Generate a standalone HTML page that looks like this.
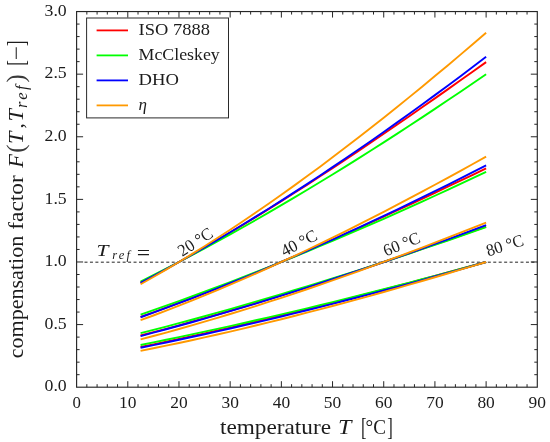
<!DOCTYPE html>
<html><head><meta charset="utf-8"><title>compensation factor</title>
<style>
html,body{margin:0;padding:0;background:#fff;}
svg{display:block;font-family:"Liberation Serif",serif;}
.t{font-size:17px;fill:#1c1c1c;}
.l{font-size:21px;fill:#1c1c1c;}
.i{font-style:italic;}
</style></head><body>
<svg width="550" height="442" viewBox="0 0 550 442">
<rect x="0" y="0" width="550" height="442" fill="#ffffff"/>
<path d="M84.5,262.18 H537.3" stroke="#222" stroke-width="1" stroke-dasharray="3 2.45" fill="none"/>
<g fill="none" stroke-width="1.9" stroke-linejoin="round" stroke-linecap="butt">
<path d="M140.59,282.64 L153.38,275.90 L166.18,269.01 L178.98,261.98 L191.77,254.82 L204.57,247.52 L217.37,240.09 L230.17,232.53 L242.96,224.86 L255.76,217.07 L268.56,209.17 L281.36,201.16 L294.15,193.05 L306.95,184.84 L319.75,176.54 L332.54,168.15 L345.34,159.68 L358.14,151.12 L370.94,142.49 L383.73,133.79 L396.53,125.02 L409.33,116.18 L422.12,107.29 L434.92,98.35 L447.72,89.35 L460.52,80.31 L473.31,71.23 L486.11,62.12" stroke="#ff0000"/>
<path d="M140.59,281.59 L153.38,275.16 L166.18,268.63 L178.98,261.98 L191.77,255.24 L204.57,248.38 L217.37,241.43 L230.17,234.38 L242.96,227.22 L255.76,219.97 L268.56,212.62 L281.36,205.18 L294.15,197.64 L306.95,190.01 L319.75,182.28 L332.54,174.47 L345.34,166.57 L358.14,158.58 L370.94,150.51 L383.73,142.35 L396.53,134.10 L409.33,125.78 L422.12,117.37 L434.92,108.89 L447.72,100.33 L460.52,91.69 L473.31,82.98 L486.11,74.19" stroke="#00ff00"/>
<path d="M140.59,282.96 L153.38,276.10 L166.18,269.10 L178.98,261.98 L191.77,254.74 L204.57,247.37 L217.37,239.87 L230.17,232.26 L242.96,224.52 L255.76,216.67 L268.56,208.70 L281.36,200.62 L294.15,192.42 L306.95,184.11 L319.75,175.69 L332.54,167.15 L345.34,158.51 L358.14,149.77 L370.94,140.92 L383.73,131.96 L396.53,122.90 L409.33,113.75 L422.12,104.49 L434.92,95.13 L447.72,85.68 L460.52,76.14 L473.31,66.50 L486.11,56.77" stroke="#0000ff"/>
<path d="M140.59,284.26 L153.38,277.02 L166.18,269.60 L178.98,261.98 L191.77,254.18 L204.57,246.21 L217.37,238.05 L230.17,229.72 L242.96,221.22 L255.76,212.56 L268.56,203.73 L281.36,194.75 L294.15,185.61 L306.95,176.33 L319.75,166.90 L332.54,157.32 L345.34,147.61 L358.14,137.76 L370.94,127.79 L383.73,117.69 L396.53,107.46 L409.33,97.12 L422.12,86.66 L434.92,76.09 L447.72,65.41 L460.52,54.63 L473.31,43.76 L486.11,32.78" stroke="#ff9900"/>
<path d="M140.59,316.82 L153.38,312.29 L166.18,307.65 L178.98,302.92 L191.77,298.10 L204.57,293.18 L217.37,288.18 L230.17,283.10 L242.96,277.93 L255.76,272.69 L268.56,267.37 L281.36,261.98 L294.15,256.52 L306.95,251.00 L319.75,245.41 L332.54,239.77 L345.34,234.06 L358.14,228.30 L370.94,222.49 L383.73,216.63 L396.53,210.73 L409.33,204.79 L422.12,198.80 L434.92,192.78 L447.72,186.73 L460.52,180.64 L473.31,174.53 L486.11,168.40" stroke="#ff0000"/>
<path d="M140.59,314.55 L153.38,310.13 L166.18,305.63 L178.98,301.06 L191.77,296.42 L204.57,291.71 L217.37,286.92 L230.17,282.07 L242.96,277.15 L255.76,272.16 L268.56,267.10 L281.36,261.98 L294.15,256.80 L306.95,251.55 L319.75,246.24 L332.54,240.86 L345.34,235.43 L358.14,229.93 L370.94,224.37 L383.73,218.76 L396.53,213.09 L409.33,207.36 L422.12,201.58 L434.92,195.75 L447.72,189.86 L460.52,183.91 L473.31,177.92 L486.11,171.87" stroke="#00ff00"/>
<path d="M140.59,317.25 L153.38,312.64 L166.18,307.95 L178.98,303.17 L191.77,298.30 L204.57,293.36 L217.37,288.33 L230.17,283.22 L242.96,278.03 L255.76,272.76 L268.56,267.41 L281.36,261.98 L294.15,256.48 L306.95,250.90 L319.75,245.25 L332.54,239.53 L345.34,233.73 L358.14,227.86 L370.94,221.92 L383.73,215.91 L396.53,209.83 L409.33,203.68 L422.12,197.47 L434.92,191.19 L447.72,184.85 L460.52,178.44 L473.31,171.97 L486.11,165.44" stroke="#0000ff"/>
<path d="M140.59,320.22 L153.38,315.51 L166.18,310.68 L178.98,305.73 L191.77,300.65 L204.57,295.46 L217.37,290.16 L230.17,284.74 L242.96,279.21 L255.76,273.57 L268.56,267.83 L281.36,261.98 L294.15,256.04 L306.95,250.00 L319.75,243.86 L332.54,237.63 L345.34,231.31 L358.14,224.91 L370.94,218.42 L383.73,211.84 L396.53,205.19 L409.33,198.46 L422.12,191.66 L434.92,184.78 L447.72,177.83 L460.52,170.82 L473.31,163.74 L486.11,156.60" stroke="#ff9900"/>
<path d="M140.59,335.53 L153.38,332.20 L166.18,328.80 L178.98,325.33 L191.77,321.79 L204.57,318.18 L217.37,314.51 L230.17,310.78 L242.96,306.98 L255.76,303.14 L268.56,299.23 L281.36,295.28 L294.15,291.27 L306.95,287.21 L319.75,283.11 L332.54,278.96 L345.34,274.78 L358.14,270.55 L370.94,266.28 L383.73,261.98 L396.53,257.65 L409.33,253.29 L422.12,248.89 L434.92,244.47 L447.72,240.03 L460.52,235.56 L473.31,231.07 L486.11,226.57" stroke="#ff0000"/>
<path d="M140.59,333.19 L153.38,329.90 L166.18,326.56 L178.98,323.16 L191.77,319.71 L204.57,316.21 L217.37,312.65 L230.17,309.05 L242.96,305.39 L255.76,301.68 L268.56,297.92 L281.36,294.11 L294.15,290.26 L306.95,286.36 L319.75,282.41 L332.54,278.41 L345.34,274.37 L358.14,270.29 L370.94,266.16 L383.73,261.98 L396.53,257.77 L409.33,253.51 L422.12,249.21 L434.92,244.87 L447.72,240.49 L460.52,236.08 L473.31,231.62 L486.11,227.13" stroke="#00ff00"/>
<path d="M140.59,336.06 L153.38,332.69 L166.18,329.26 L178.98,325.77 L191.77,322.22 L204.57,318.60 L217.37,314.92 L230.17,311.19 L242.96,307.39 L255.76,303.54 L268.56,299.63 L281.36,295.66 L294.15,291.64 L306.95,287.57 L319.75,283.43 L332.54,279.25 L345.34,275.01 L358.14,270.72 L370.94,266.38 L383.73,261.98 L396.53,257.54 L409.33,253.05 L422.12,248.51 L434.92,243.92 L447.72,239.28 L460.52,234.60 L473.31,229.87 L486.11,225.09" stroke="#0000ff"/>
<path d="M140.59,339.37 L153.38,336.01 L166.18,332.56 L178.98,329.02 L191.77,325.40 L204.57,321.69 L217.37,317.90 L230.17,314.03 L242.96,310.09 L255.76,306.06 L268.56,301.96 L281.36,297.79 L294.15,293.54 L306.95,289.23 L319.75,284.85 L332.54,280.40 L345.34,275.89 L358.14,271.31 L370.94,266.68 L383.73,261.98 L396.53,257.23 L409.33,252.43 L422.12,247.57 L434.92,242.66 L447.72,237.70 L460.52,232.69 L473.31,227.64 L486.11,222.54" stroke="#ff9900"/>
<path d="M140.59,346.92 L153.38,344.33 L166.18,341.68 L178.98,338.97 L191.77,336.21 L204.57,333.40 L217.37,330.53 L230.17,327.62 L242.96,324.67 L255.76,321.67 L268.56,318.63 L281.36,315.54 L294.15,312.42 L306.95,309.26 L319.75,306.06 L332.54,302.83 L345.34,299.56 L358.14,296.27 L370.94,292.94 L383.73,289.59 L396.53,286.21 L409.33,282.81 L422.12,279.38 L434.92,275.94 L447.72,272.47 L460.52,268.99 L473.31,265.49 L486.11,261.98" stroke="#ff0000"/>
<path d="M140.59,344.95 L153.38,342.38 L166.18,339.77 L178.98,337.11 L191.77,334.41 L204.57,331.67 L217.37,328.89 L230.17,326.06 L242.96,323.20 L255.76,320.30 L268.56,317.36 L281.36,314.38 L294.15,311.37 L306.95,308.32 L319.75,305.23 L332.54,302.10 L345.34,298.94 L358.14,295.74 L370.94,292.51 L383.73,289.25 L396.53,285.95 L409.33,282.62 L422.12,279.26 L434.92,275.87 L447.72,272.44 L460.52,268.98 L473.31,265.50 L486.11,261.98" stroke="#00ff00"/>
<path d="M140.59,347.70 L153.38,345.10 L166.18,342.45 L178.98,339.75 L191.77,337.00 L204.57,334.21 L217.37,331.37 L230.17,328.49 L242.96,325.55 L255.76,322.58 L268.56,319.56 L281.36,316.50 L294.15,313.39 L306.95,310.24 L319.75,307.05 L332.54,303.81 L345.34,300.54 L358.14,297.23 L370.94,293.87 L383.73,290.48 L396.53,287.05 L409.33,283.58 L422.12,280.07 L434.92,276.52 L447.72,272.94 L460.52,269.32 L473.31,265.67 L486.11,261.98" stroke="#0000ff"/>
<path d="M140.59,350.83 L153.38,348.27 L166.18,345.65 L178.98,342.96 L191.77,340.21 L204.57,337.39 L217.37,334.50 L230.17,331.56 L242.96,328.56 L255.76,325.50 L268.56,322.38 L281.36,319.21 L294.15,315.98 L306.95,312.70 L319.75,309.37 L332.54,305.98 L345.34,302.55 L358.14,299.07 L370.94,295.55 L383.73,291.98 L396.53,288.37 L409.33,284.71 L422.12,281.02 L434.92,277.28 L447.72,273.51 L460.52,269.70 L473.31,265.86 L486.11,261.98" stroke="#ff9900"/>
</g>
<path d="M86.84,387.2 v-3 M86.84,11.55 v3 M97.08,387.2 v-3 M97.08,11.55 v3 M107.31,387.2 v-3 M107.31,11.55 v3 M117.55,387.2 v-3 M117.55,11.55 v3 M127.79,387.2 v-6 M127.79,11.55 v6 M138.03,387.2 v-3 M138.03,11.55 v3 M148.26,387.2 v-3 M148.26,11.55 v3 M158.50,387.2 v-3 M158.50,11.55 v3 M168.74,387.2 v-3 M168.74,11.55 v3 M178.98,387.2 v-6 M178.98,11.55 v6 M189.22,387.2 v-3 M189.22,11.55 v3 M199.45,387.2 v-3 M199.45,11.55 v3 M209.69,387.2 v-3 M209.69,11.55 v3 M219.93,387.2 v-3 M219.93,11.55 v3 M230.17,387.2 v-6 M230.17,11.55 v6 M240.40,387.2 v-3 M240.40,11.55 v3 M250.64,387.2 v-3 M250.64,11.55 v3 M260.88,387.2 v-3 M260.88,11.55 v3 M271.12,387.2 v-3 M271.12,11.55 v3 M281.36,387.2 v-6 M281.36,11.55 v6 M291.59,387.2 v-3 M291.59,11.55 v3 M301.83,387.2 v-3 M301.83,11.55 v3 M312.07,387.2 v-3 M312.07,11.55 v3 M322.31,387.2 v-3 M322.31,11.55 v3 M332.54,387.2 v-6 M332.54,11.55 v6 M342.78,387.2 v-3 M342.78,11.55 v3 M353.02,387.2 v-3 M353.02,11.55 v3 M363.26,387.2 v-3 M363.26,11.55 v3 M373.50,387.2 v-3 M373.50,11.55 v3 M383.73,387.2 v-6 M383.73,11.55 v6 M393.97,387.2 v-3 M393.97,11.55 v3 M404.21,387.2 v-3 M404.21,11.55 v3 M414.45,387.2 v-3 M414.45,11.55 v3 M424.68,387.2 v-3 M424.68,11.55 v3 M434.92,387.2 v-6 M434.92,11.55 v6 M445.16,387.2 v-3 M445.16,11.55 v3 M455.40,387.2 v-3 M455.40,11.55 v3 M465.64,387.2 v-3 M465.64,11.55 v3 M475.87,387.2 v-3 M475.87,11.55 v3 M486.11,387.2 v-6 M486.11,11.55 v6 M496.35,387.2 v-3 M496.35,11.55 v3 M506.59,387.2 v-3 M506.59,11.55 v3 M516.82,387.2 v-3 M516.82,11.55 v3 M527.06,387.2 v-3 M527.06,11.55 v3 M76.6,374.68 h3 M537.3,374.68 h-3 M76.6,362.16 h3 M537.3,362.16 h-3 M76.6,349.63 h3 M537.3,349.63 h-3 M76.6,337.11 h3 M537.3,337.11 h-3 M76.6,324.59 h6.5 M537.3,324.59 h-6.5 M76.6,312.07 h3 M537.3,312.07 h-3 M76.6,299.55 h3 M537.3,299.55 h-3 M76.6,287.03 h3 M537.3,287.03 h-3 M76.6,274.50 h3 M537.3,274.50 h-3 M76.6,261.98 h6.5 M537.3,261.98 h-6.5 M76.6,249.46 h3 M537.3,249.46 h-3 M76.6,236.94 h3 M537.3,236.94 h-3 M76.6,224.42 h3 M537.3,224.42 h-3 M76.6,211.90 h3 M537.3,211.90 h-3 M76.6,199.38 h6.5 M537.3,199.38 h-6.5 M76.6,186.85 h3 M537.3,186.85 h-3 M76.6,174.33 h3 M537.3,174.33 h-3 M76.6,161.81 h3 M537.3,161.81 h-3 M76.6,149.29 h3 M537.3,149.29 h-3 M76.6,136.77 h6.5 M537.3,136.77 h-6.5 M76.6,124.25 h3 M537.3,124.25 h-3 M76.6,111.72 h3 M537.3,111.72 h-3 M76.6,99.20 h3 M537.3,99.20 h-3 M76.6,86.68 h3 M537.3,86.68 h-3 M76.6,74.16 h6.5 M537.3,74.16 h-6.5 M76.6,61.64 h3 M537.3,61.64 h-3 M76.6,49.12 h3 M537.3,49.12 h-3 M76.6,36.59 h3 M537.3,36.59 h-3 M76.6,24.07 h3 M537.3,24.07 h-3" stroke="#262626" stroke-width="1" fill="none"/>
<rect x="76.6" y="11.55" width="460.70" height="375.65" fill="none" stroke="#262626" stroke-width="1.15"/>
<g class="t" style="font-size:16px"><text x="72.4" y="408.1" textLength="8.4" lengthAdjust="spacingAndGlyphs">0</text><text x="119.1" y="408.1" textLength="17.4" lengthAdjust="spacingAndGlyphs">10</text><text x="170.3" y="408.1" textLength="17.4" lengthAdjust="spacingAndGlyphs">20</text><text x="221.5" y="408.1" textLength="17.4" lengthAdjust="spacingAndGlyphs">30</text><text x="272.7" y="408.1" textLength="17.4" lengthAdjust="spacingAndGlyphs">40</text><text x="323.8" y="408.1" textLength="17.4" lengthAdjust="spacingAndGlyphs">50</text><text x="375.0" y="408.1" textLength="17.4" lengthAdjust="spacingAndGlyphs">60</text><text x="426.2" y="408.1" textLength="17.4" lengthAdjust="spacingAndGlyphs">70</text><text x="477.4" y="408.1" textLength="17.4" lengthAdjust="spacingAndGlyphs">80</text><text x="528.6" y="408.1" textLength="17.4" lengthAdjust="spacingAndGlyphs">90</text><text x="44.5" y="391.4" textLength="22.2" lengthAdjust="spacingAndGlyphs">0.0</text><text x="44.5" y="328.8" textLength="22.2" lengthAdjust="spacingAndGlyphs">0.5</text><text x="44.5" y="266.2" textLength="22.2" lengthAdjust="spacingAndGlyphs">1.0</text><text x="44.5" y="203.6" textLength="22.2" lengthAdjust="spacingAndGlyphs">1.5</text><text x="44.5" y="141.0" textLength="22.2" lengthAdjust="spacingAndGlyphs">2.0</text><text x="44.5" y="78.4" textLength="22.2" lengthAdjust="spacingAndGlyphs">2.5</text><text x="44.5" y="15.8" textLength="22.2" lengthAdjust="spacingAndGlyphs">3.0</text></g>
<rect x="86.6" y="18" width="141.9" height="99.9" fill="#fff" stroke="#2a2a2a" stroke-width="1"/>
<g class="t"><path d="M96.6,30.4 H128" stroke="#ff0000" stroke-width="1.8" fill="none"/><text x="138.6" y="34.6" textLength="71.3" lengthAdjust="spacingAndGlyphs">ISO 7888</text><path d="M96.6,55.4 H128" stroke="#00ff00" stroke-width="1.8" fill="none"/><text x="138.6" y="59.6" textLength="81.2" lengthAdjust="spacingAndGlyphs">McCleskey</text><path d="M96.6,80.4 H128" stroke="#0000ff" stroke-width="1.8" fill="none"/><text x="138.6" y="84.6" textLength="40.4" lengthAdjust="spacingAndGlyphs">DHO</text><path d="M96.6,105.4 H128" stroke="#ff9900" stroke-width="1.8" fill="none"/><text x="138.6" y="109.6"><tspan font-style="italic">η</tspan></text></g>
<g class="t">
<text x="96.4" y="256.4" class="i" textLength="12" lengthAdjust="spacingAndGlyphs">T</text>
<text x="112.3" y="259.2" class="i" font-size="12.5" textLength="17.6" lengthAdjust="spacing">ref</text>
<text x="136.8" y="260.2" font-size="20" textLength="13.4" lengthAdjust="spacingAndGlyphs">=</text>
<text transform="translate(182.2,257.0) rotate(-33)" textLength="38.3" lengthAdjust="spacingAndGlyphs">20 °C</text>
<text transform="translate(284.4,256.8) rotate(-27.3)" textLength="38.3" lengthAdjust="spacingAndGlyphs">40 °C</text>
<text transform="translate(386.1,256.5) rotate(-22.3)" textLength="38.3" lengthAdjust="spacingAndGlyphs">60 °C</text>
<text transform="translate(488.2,256.4) rotate(-17.5)" textLength="38.3" lengthAdjust="spacingAndGlyphs">80 °C</text>
</g>
<g class="l">
<text x="220" y="434.1" textLength="111" lengthAdjust="spacingAndGlyphs">temperature</text>
<text x="338.1" y="434.1" class="i" textLength="13.4" lengthAdjust="spacingAndGlyphs">T</text>
<text x="360.9" y="434.6" font-size="24.6" textLength="5.6" lengthAdjust="spacingAndGlyphs">[</text>
<text x="365.6" y="434.1" textLength="20.4" lengthAdjust="spacingAndGlyphs">°C</text>
<text x="387.2" y="434.6" font-size="24.6" textLength="5.6" lengthAdjust="spacingAndGlyphs">]</text>
<g transform="translate(22.8,358.3) rotate(-90)">
<text x="0" y="0" textLength="122.5" lengthAdjust="spacingAndGlyphs">compensation</text>
<text x="128.6" y="0" textLength="54.5" lengthAdjust="spacingAndGlyphs">factor</text>
<text x="190.5" y="0" class="i" textLength="13.6" lengthAdjust="spacingAndGlyphs">F</text>
<text x="205.6" y="1.4" font-size="24.6" fill="#3a3a3a">(</text>
<text x="214.3" y="0" class="i" textLength="12.4" lengthAdjust="spacingAndGlyphs">T</text>
<text x="229.8" y="0">,</text>
<text x="236.8" y="0" class="i" textLength="12.4" lengthAdjust="spacingAndGlyphs">T</text>
<text x="250.4" y="3.8" class="i" font-size="16.5" textLength="22.6" lengthAdjust="spacing">ref</text>
<text x="275.8" y="1.4" font-size="24.6" fill="#3a3a3a">)</text>
<text x="292.6" y="1.4" font-size="24.6" textLength="5.6" lengthAdjust="spacingAndGlyphs">[</text>
<text x="298" y="0" textLength="14.2" lengthAdjust="spacingAndGlyphs">−</text>
<text x="312.4" y="1.4" font-size="24.6" textLength="5.6" lengthAdjust="spacingAndGlyphs">]</text>
</g>
</g>
</svg>
</body></html>
